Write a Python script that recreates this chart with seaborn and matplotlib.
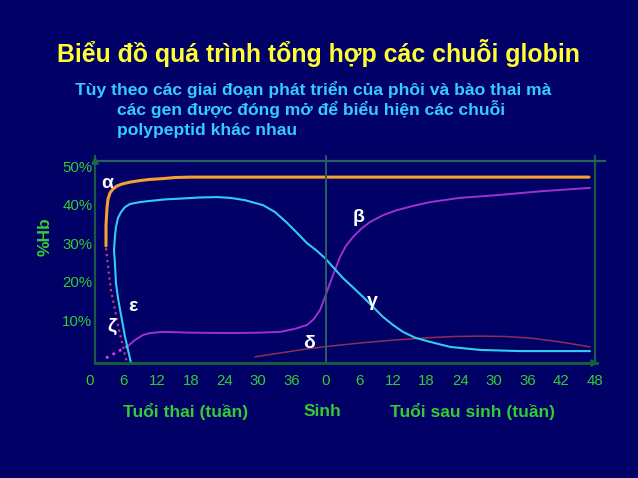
import numpy as np
import pandas as pd
import seaborn as sns
import matplotlib.pyplot as plt

# truc x: tuan thai 0..36, sinh o vi tri 42, tuan sau sinh w -> 42 + w
x_ticks = [0, 6, 12, 18, 24, 30, 36, 42, 48, 54, 60, 66, 72, 78, 84, 90]
x_tick_labels = ["0", "6", "12", "18", "24", "30", "36",
                 "0", "6", "12", "18", "24", "30", "36", "42", "48"]
y_ticks = [10, 20, 30, 40, 50]
y_tick_labels = ["10%", "20%", "30%", "40%", "50%"]
sinh_x = 42

alpha_x = [2.85, 2.85, 3.03, 3.21, 3.57, 4.10, 4.81, 5.70, 7.13, 8.91, 10.70,
           12.83, 15.15, 17.83, 88.95]
alpha_y = [27.9, 33.3, 37.8, 40.1, 41.7, 42.7, 43.5, 44.0, 44.5, 44.9, 45.2,
           45.4, 45.7, 45.8, 45.8]

gamma_x = [7.31, 6.77, 6.24, 5.53, 4.99, 4.63, 4.46, 4.28, 4.46, 4.63, 4.99,
           5.53, 6.24, 7.13, 8.91, 10.70, 13.37, 16.04, 19.61, 22.64, 24.96,
           27.63, 30.84, 32.98, 35.12, 36.90, 38.68, 40.29, 41.89, 43.49, 45.10,
           46.88, 48.66, 50.45, 52.23, 54.01, 55.79, 57.93, 60.61, 64.17, 69.52,
           76.65, 89.13]
gamma_y = [-2.6, 0.8, 4.2, 9.9, 14.3, 18.2, 22.9, 26.8, 30.7, 32.8, 35.2,
           36.7, 38.0, 38.8, 39.3, 39.6, 40.0, 40.2, 40.5, 40.6, 40.4,
           39.8, 38.5, 36.7, 33.9, 31.3, 28.6, 26.8, 24.7, 22.1, 19.5,
           17.1, 14.6, 12.0, 9.4, 7.3, 5.5, 4.0, 2.9, 1.6, 0.8,
           0.5, 0.5]

beta_x = [6.77, 8.02, 9.45, 10.70, 13.01, 17.83, 24.96, 30.30, 33.87, 36.54,
          38.68, 39.93, 41.00, 41.89, 42.78, 43.67, 44.56, 45.63, 46.88, 48.31,
          49.91, 52.23, 54.72, 57.58, 60.61, 65.95, 72.55, 80.21, 89.13]
beta_y = [1.8, 3.4, 4.7, 5.2, 5.5, 5.3, 5.2, 5.3, 5.5, 6.3,
          7.3, 8.9, 11.2, 14.6, 18.2, 21.6, 25.0, 27.9, 30.2, 32.3,
          34.1, 35.9, 37.2, 38.3, 39.3, 40.4, 41.1, 42.1, 43.0]

delta_x = [29.41, 33.87, 38.32, 42.78, 48.13, 54.37, 60.61, 65.06, 69.52,
           73.98, 78.43, 83.78, 89.13]
delta_y = [-1.0, 0.0, 1.0, 1.8, 2.6, 3.4, 4.0, 4.3, 4.4, 4.3, 3.9, 2.9, 1.6]

zeta_x = [2.85, 3.39, 3.74, 5.17, 6.60]
zeta_y = [27.3, 20.3, 16.4, 6.0, -2.6]

eps_x = [2.85, 7.13]
eps_y = [-1.3, 2.1]

nhan = {"α": (3.0, 44.2), "ε": (7.7, 12.0), "ζ": (3.9, 7.0),
        "β": (47.8, 35.4), "γ": (50.4, 13.5), "δ": (39.0, 2.6)}

NEN = "#000066"
XANH = "#33cc33"

sns.set_style("dark")
plt.rcParams["font.family"] = ["Liberation Sans", "DejaVu Sans"]

fig = plt.figure(figsize=(6.38, 4.78), dpi=100, facecolor=NEN)
ax = fig.add_axes([0.1235, 0.2406, 0.8353, 0.4467])
ax.set_facecolor(NEN)

def ve(xs, ys, mau, lw, ls="-"):
    df = pd.DataFrame({"x": xs, "y": ys})
    sns.lineplot(data=df, x="x", y="y", sort=False, estimator=None, ax=ax,
                 color=mau, linewidth=lw, linestyle=ls)

ve(delta_x, delta_y, "#8c3050", 1.1)
ve(beta_x, beta_y, "#a030d0", 1.4)
ve(zeta_x, zeta_y, "#c04070", 1.6, ":")
ve(eps_x, eps_y, "#d040e0", 2.0, ":")
ve(gamma_x, gamma_y, "#33ccee", 1.5)
ve(alpha_x, alpha_y, "#f5a030", 2.2)

for k, (tx, ty) in nhan.items():
    ax.text(tx, ty, k, color="white", fontsize=14, fontweight="bold",
            ha="center", va="center")

ax.set_xlim(-2, 93)
ax.set_ylim(-2.6, 53)
ax.grid(False)

# khung truc
ax.spines["left"].set_position(("data", 0.9))
ax.spines["left"].set_bounds(-2.6, 51.3)
ax.spines["left"].set_color("#1a5a45")
ax.spines["left"].set_linewidth(1.6)
ax.spines["bottom"].set_bounds(0.9, 90.4)
ax.spines["bottom"].set_color("#10643c")
ax.spines["bottom"].set_linewidth(2.0)
ax.spines["top"].set_position(("data", 50))
ax.spines["top"].set_bounds(0.9, 91.8)
ax.spines["top"].set_color("#2a6060")
ax.spines["top"].set_linewidth(1.6)
ax.spines["right"].set_position(("data", 90))
ax.spines["right"].set_bounds(-2.6, 51.3)
ax.spines["right"].set_color("#1a5a45")
ax.spines["right"].set_linewidth(1.6)
ax.axvline(sinh_x, ymin=0, ymax=(51.3 + 2.6) / 55.6, color="#2a6060", lw=1.4)
ax.annotate("", xy=(0.9, 52.0), xytext=(0.9, 49.0),
            arrowprops=dict(arrowstyle="-|>", color="#1a6a45", lw=1.4))
ax.annotate("", xy=(91.2, -2.6), xytext=(88.0, -2.6),
            arrowprops=dict(arrowstyle="-|>", color="#10643c", lw=1.4))

ax.set_xticks(x_ticks)
ax.set_xticklabels(x_tick_labels)
ax.set_yticks(y_ticks)
ax.set_yticklabels(y_tick_labels)
ax.tick_params(axis="both", length=0, colors=XANH, labelsize=10.8)
ax.tick_params(axis="x", pad=8)
ax.tick_params(axis="y", pad=2)
for lb in ax.get_yticklabels():
    lb.set_va("top")
    lb.set_y(lb.get_position()[1])
ax.set_xlabel("")
ax.set_ylabel("")

fig.text(45 / 638, 1 - 237 / 478, "%Hb", color=XANH, fontsize=12.5,
         fontweight="bold", rotation=90, ha="center", va="center")
fig.text(186 / 638, 1 - 411 / 478, "Tuổi thai (tuần)", color=XANH,
         fontsize=12.5, fontweight="bold", ha="center", va="center")
fig.text(322 / 638, 1 - 411 / 478, "Sinh", color=XANH,
         fontsize=12.5, fontweight="bold", ha="center", va="center")
fig.text(473 / 638, 1 - 411 / 478, "Tuổi sau sinh (tuần)", color=XANH,
         fontsize=12.5, fontweight="bold", ha="center", va="center")

fig.text(318 / 638, 1 - 62 / 478, "Biểu đồ quá trình tổng hợp các chuỗi globin",
         color="#ffff33", fontsize=17.9, fontweight="bold",
         ha="center", va="baseline")
fig.text(75 / 638, 1 - 95 / 478,
         "Tùy theo các giai đoạn phát triển của phôi và bào thai mà",
         color="#33ccff", fontsize=12.6, fontweight="bold", va="baseline")
fig.text(117 / 638, 1 - 115 / 478, "các gen được đóng mở để biểu hiện các chuỗi",
         color="#33ccff", fontsize=12.6, fontweight="bold", va="baseline")
fig.text(117 / 638, 1 - 135 / 478, "polypeptid khác nhau",
         color="#33ccff", fontsize=12.6, fontweight="bold", va="baseline")

fig.savefig("out.png", dpi=100, facecolor=NEN)
